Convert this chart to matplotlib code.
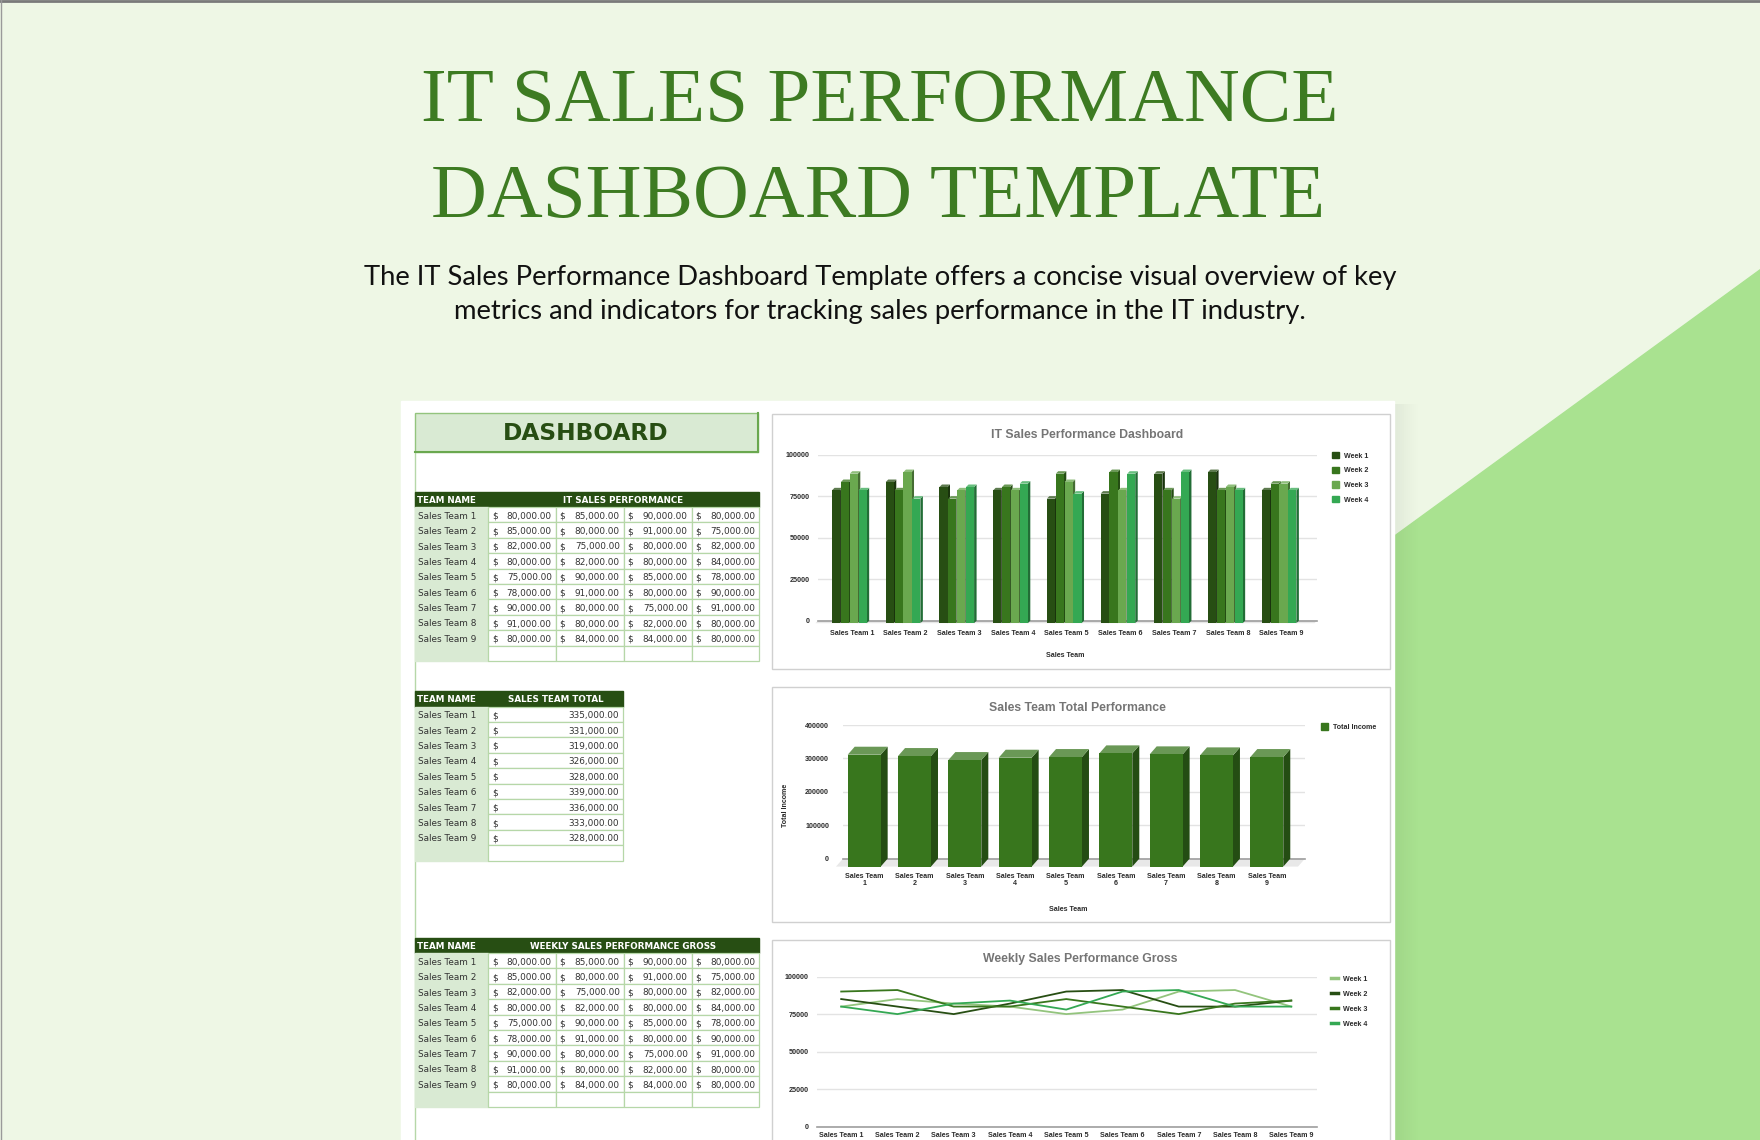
import numpy as np
import matplotlib
matplotlib.use("Agg")
import matplotlib.pyplot as plt
from matplotlib.patches import Rectangle, Polygon, Patch
from matplotlib.lines import Line2D
from matplotlib.colors import to_rgb

plt.rcParams['font.family'] = ['Liberation Sans', 'DejaVu Sans']

# ---- data ----
teams = ["Sales Team 1", "Sales Team 2", "Sales Team 3", "Sales Team 4", "Sales Team 5",
         "Sales Team 6", "Sales Team 7", "Sales Team 8", "Sales Team 9"]
team_ticks = ["Sales Team\n1", "Sales Team\n2", "Sales Team\n3", "Sales Team\n4", "Sales Team\n5",
              "Sales Team\n6", "Sales Team\n7", "Sales Team\n8", "Sales Team\n9"]
weeks = ["Week 1", "Week 2", "Week 3", "Week 4"]
week1 = [80000, 85000, 82000, 80000, 75000, 78000, 90000, 91000, 80000]
week2 = [85000, 80000, 75000, 82000, 90000, 91000, 80000, 80000, 84000]
week3 = [90000, 91000, 80000, 80000, 85000, 80000, 75000, 82000, 84000]
week4 = [80000, 75000, 82000, 84000, 78000, 90000, 91000, 80000, 80000]
totals = [335000, 331000, 319000, 326000, 328000, 339000, 336000, 333000, 328000]
ticks_week = [0, 25000, 50000, 75000, 100000]
ticks_total = [0, 100000, 200000, 300000, 400000]

bar_colors = ["#274e13", "#38761d", "#6aa84f", "#34a853"]
line_colors = ["#93c47d", "#274e13", "#38761d", "#34a853"]

W, H = 1760, 1140
fig = plt.figure(figsize=(W / 100, H / 100), dpi=100)
bg = fig.add_axes([0, 0, 1, 1])
bg.set_xlim(0, W)
bg.set_ylim(H, 0)
bg.axis("off")

SMALL = 5.1
TXT = "#2b2b2b"


def px_axes(x0, y0, x1, y1):
    return fig.add_axes([x0 / W, 1 - y1 / H, (x1 - x0) / W, (y1 - y0) / H])


def shade(c, f):
    r = np.array(to_rgb(c))
    if f > 0:
        return tuple(r + (1 - r) * f)
    return tuple(r * (1 + f))


def fit_width(t, width_px):
    r = fig.canvas.get_renderer()
    w = t.get_window_extent(r).width
    t.set_fontsize(t.get_fontsize() * width_px / w)
    return t.get_fontsize()


# ---- page background ----
bg.add_patch(Rectangle((0, 0), W, H, color="#eef7e5", zorder=0))
bg.add_patch(Polygon([(1760, 269), (1760, 1140), (564, 1140)], color="#a9e290", zorder=1))
bg.plot([0, W], [1, 1], color="#7a7a7a", lw=2, zorder=2)
bg.plot([0.5, 0.5], [0, H], color="#9a9a9a", lw=1, zorder=2)

t1 = bg.text(880, 103, "IT SALES PERFORMANCE", ha="center", va="center", color="#3d7b22",
             family="Liberation Serif", fontsize=50)
fs = fit_width(t1, 918)
bg.text(878, 199, "DASHBOARD TEMPLATE", ha="center", va="center", color="#3d7b22",
        family="Liberation Serif", fontsize=fs)
s1 = bg.text(880, 278, "The IT Sales Performance Dashboard Template offers a concise visual overview of key",
             ha="center", va="center", color="#111111", family="Lato", fontsize=18)
fs = fit_width(s1, 1035)
bg.text(880, 312, "metrics and indicators for tracking sales performance in the IT industry.",
        ha="center", va="center", color="#111111", family="Lato", fontsize=fs)

# ---- sheet ----
for k in range(12):
    bg.add_patch(Rectangle((1394 + k * 2, 404), 2, 740, color="black", alpha=0.05 * (1 - k / 12), lw=0, zorder=2))
bg.add_patch(Rectangle((401, 401), 993, 745, color="white", zorder=3))

bg.add_patch(Rectangle((415, 413), 343, 39, fc="#d9ead3", ec="#93c47d", lw=1, zorder=4))
bg.plot([415, 758], [452, 452], color="#6aa84f", lw=1.5, zorder=5)
bg.plot([758, 758], [413, 452], color="#6aa84f", lw=1.5, zorder=5)
d = bg.text(586, 434, "DASHBOARD", ha="center", va="center", color="#274e13",
            family="DejaVu Sans", weight="bold", fontsize=16, zorder=6)
fit_width(d, 166)
bg.plot([415, 415], [452, 1140], color="#b6d7a8", lw=1, zorder=4)

# ---- tables ----
RH = 15.4
HH = 15.5


def draw_table(top, edges, title, cols):
    x0, x1 = 415, edges[-1]
    bg.add_patch(Rectangle((x0, top), x1 - x0, HH, color="#274e13", zorder=5))
    bg.text(417, top + HH / 2 + 1, "TEAM NAME", ha="left", va="center", color="white",
            family="DejaVu Sans", weight="bold", fontsize=6.3, zorder=6)
    bg.text((edges[0] + x1) / 2, top + HH / 2 + 1, title, ha="center", va="center", color="white",
            family="DejaVu Sans", weight="bold", fontsize=6.3, zorder=6)
    y0 = top + HH
    bg.add_patch(Rectangle((x0, y0), edges[0] - x0, 10 * RH, color="#d9ead3", zorder=5))
    for r in range(10):
        y = y0 + r * RH
        for c in range(len(edges) - 1):
            bg.add_patch(Rectangle((edges[c], y), edges[c + 1] - edges[c], RH, fc="white",
                                   ec="#b6d7a8", lw=0.9, zorder=5))
        if r < len(teams):
            ty = y + RH / 2 + 1.5
            bg.text(418, ty, teams[r], ha="left", va="center", color="#333333",
                    family="DejaVu Sans", fontsize=6.4, zorder=6)
            for c, vals in enumerate(cols):
                bg.text(edges[c] + 4, ty, "$", ha="left", va="center", color="#333333",
                        family="DejaVu Sans", fontsize=6.4, zorder=6)
                bg.text(edges[c + 1] - 4, ty, f"{vals[r]:,.2f}", ha="right", va="center",
                        color="#333333", family="DejaVu Sans", fontsize=6.4, zorder=6)


week_edges = [488, 555.7, 623.7, 691.7, 759]
draw_table(491.5, week_edges, "IT SALES PERFORMANCE", [week1, week2, week3, week4])
draw_table(691, [488, 623.3], "SALES TEAM TOTAL", [totals])
draw_table(937.5, week_edges, "WEEKLY SALES PERFORMANCE GROSS", [week1, week2, week3, week4])

# ---- chart frames ----
for (fy0, fy1, title, ty, tx) in [(414, 669, "IT Sales Performance Dashboard", 435, 1087),
                                  (687, 921.5, "Sales Team Total Performance", 708, 1077),
                                  (939.5, 1150, "Weekly Sales Performance Gross", 959, 1080)]:
    bg.add_patch(Rectangle((772, fy0), 617.5, fy1 - fy0, fc="white", ec="#d0d0d0", lw=1, zorder=5))
    bg.text(tx, ty, title, ha="center", va="center", color="#757575", weight="bold",
            fontsize=8.8, zorder=6)


def style_axis(ax, ticks, pad_y, pad_x):
    ax.set_facecolor("none")
    for s in ax.spines.values():
        s.set_visible(False)
    ax.set_yticks(ticks)
    ax.set_yticklabels([str(t) for t in ticks], fontweight="bold")
    ax.yaxis.grid(True, color="#e3e3e3", lw=1)
    ax.set_axisbelow(True)
    ax.tick_params(axis="y", length=0, pad=pad_y, labelsize=SMALL, labelcolor=TXT)
    ax.tick_params(axis="x", length=0, pad=pad_x, labelsize=SMALL, labelcolor=TXT)


def bar3d(ax, x, h, w, color, dx, dy):
    front = Rectangle((x - w / 2 - dx, -dy), w, h, fc=color, ec="none", clip_on=False, zorder=3)
    top = Polygon([(x - w / 2 - dx, h - dy), (x + w / 2 - dx, h - dy), (x + w / 2, h), (x - w / 2, h)],
                  fc=shade(color, 0.25), ec="none", clip_on=False, zorder=3)
    side = Polygon([(x + w / 2 - dx, -dy), (x + w / 2, 0), (x + w / 2, h), (x + w / 2 - dx, h - dy)],
                   fc=shade(color, -0.35), ec="none", clip_on=False, zorder=3)
    for p in (side, top, front):
        ax.add_patch(p)


def floor(ax, dx, dy):
    a, b = ax.get_xlim()
    ax.add_patch(Polygon([(a, 0), (b, 0), (b - dx, -dy), (a - dx, -dy)], fc="#e8e8e8", ec="none",
                         clip_on=False, zorder=2))
    ax.plot([a, b], [0, 0], color="#9e9e9e", lw=1.2, clip_on=False, zorder=2)


legend_kw = dict(loc="upper left", frameon=False, borderpad=0, borderaxespad=0,
                 prop={"size": SMALL, "weight": "bold"}, handletextpad=0.7)

# ---- chart 1: grouped 3D bars ----
ax1 = px_axes(818, 454.6, 1317, 620.7)
ax1.set_xlim(-0.63, 8.66)
ax1.set_ylim(0, 100000)
style_axis(ax1, ticks_week, 6, 6.5)
dx1 = 2.5 * 9.29 / 499
dy1 = 2.5 * 100000 / 166.1
floor(ax1, dx1, dy1)
x = np.arange(len(teams))
for j, vals in enumerate([week1, week2, week3, week4]):
    for i, v in enumerate(vals):
        bar3d(ax1, x[i] + (j - 1.5) * 0.165, v, 0.15, bar_colors[j], dx1, dy1)
ax1.set_xticks(x)
ax1.set_xticklabels(teams, fontweight="bold")
ax1.set_xlabel("Sales Team", fontsize=SMALL, color=TXT, fontweight="bold")
ax1.xaxis.set_label_coords(0.495, -0.188)
leg1 = ax1.legend([Patch(color=c) for c in bar_colors], weeks, bbox_to_anchor=(1.03, 1.016),
                  handlelength=1.0, handleheight=1.0, labelspacing=1.0, **legend_kw)
for t in leg1.get_texts():
    t.set_color(TXT)

# ---- chart 2: total 3D bars ----
ax2 = px_axes(843, 725, 1305, 858.6)
ax2.set_xlim(-0.56, 8.62)
ax2.set_ylim(0, 400000)
style_axis(ax2, ticks_total, 10, 10.5)
dx2 = 7 * 9.18 / 462
dy2 = 8 * 400000 / 133.6
floor(ax2, dx2, dy2)
for i, v in enumerate(totals):
    bar3d(ax2, x[i], v, 0.655, "#38761d", dx2, dy2)
ax2.set_xticks(x - dx2)
ax2.set_xticklabels(team_ticks, linespacing=1.0, fontweight="bold")
ax2.set_xlabel("Sales Team", fontsize=SMALL, color=TXT, fontweight="bold")
ax2.xaxis.set_label_coords(0.488, -0.353)
ax2.set_ylabel("Total Income", fontsize=SMALL, color=TXT, fontweight="bold")
ax2.yaxis.set_label_coords(-0.117, 0.40)
leg2 = ax2.legend([Patch(color="#38761d")], ["Total Income"], bbox_to_anchor=(1.035, 1.013),
                  handlelength=1.0, handleheight=1.0, **legend_kw)
for t in leg2.get_texts():
    t.set_color(TXT)

# ---- chart 3: lines ----
ax3 = px_axes(817, 976.5, 1316.6, 1126.9)
ax3.set_xlim(-0.43, 8.45)
ax3.set_ylim(0, 100000)
style_axis(ax3, ticks_week, 6, 3.5)
ax3.plot([-0.43, 8.45], [0, 0], color="#9e9e9e", lw=1.2, clip_on=False, zorder=2)
for j, vals in enumerate([week1, week2, week3, week4]):
    ax3.plot(x, vals, color=line_colors[j], lw=1.3, zorder=3)
ax3.set_xticks(x)
ax3.set_xticklabels(teams, fontweight="bold")
leg3 = ax3.legend([Line2D([], [], color=c, lw=2.5) for c in line_colors], weeks,
                  bbox_to_anchor=(1.028, 1.005), handlelength=1.1, labelspacing=1.12, **legend_kw)
for t in leg3.get_texts():
    t.set_color(TXT)

fig.savefig("out.png", dpi=100)
